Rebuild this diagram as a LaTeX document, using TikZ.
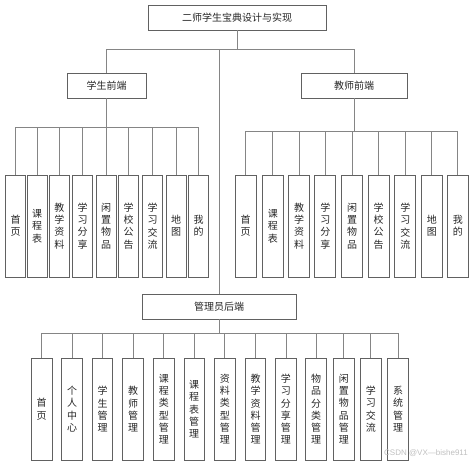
\documentclass[tikz,border=0pt]{standalone}
\usepackage{fontspec}
\newfontfamily\cjk{Noto Sans CJK SC}
\begin{document}
\begin{tikzpicture}[x=1pt,y=-1pt,
  box/.style={draw=black!62,line width=0.8pt,inner sep=0pt,align=center,
    font=\cjk\fontsize{10}{12.3}\selectfont,text=black!85},
  vbox/.style={box,minimum width=20.5pt,minimum height=102pt},
  conn/.style={draw=black!48,line width=0.8pt}]
\useasboundingbox (0,0) rectangle (474,462);
% top level
\node[box,minimum width=178pt,minimum height=25pt] (root) at (237,17.5) {二师学生宝典设计与实现};
\node[box,minimum width=79pt,minimum height=25pt] (stu) at (106.5,85.5) {学生前端};
\node[box,minimum width=106pt,minimum height=25pt] (tea) at (354,85.5) {教师前端};
\node[box,minimum width=154pt,minimum height=25pt] (adm) at (219,306.5) {管理员后端};
\coordinate (rb) at (219,49);
\coordinate (sb) at (107,127);
\coordinate (tb) at (354,131);
\coordinate (ab) at (219,333);
\draw[conn] (root.south) -- (root.south |- rb) -| (stu.north);
\draw[conn] (root.south) -- (root.south |- rb) -| (tea.north);
\draw[conn] (root.south |- rb) -| (adm.north);
% student children
\foreach \x/\t [count=\i] in {15.5/{首\\页},37/{课\\程\\表},59.3/{教\\学\\资\\料},82.7/{学\\习\\分\\享},106/{闲\\置\\物\\品},128.7/{学\\校\\公\\告},152.5/{学\\习\\交\\流},176/{地\\图},198.7/{我\\的}}{
  \node[vbox,minimum width=20pt] (s\i) at (\x,226) {\t};
  \draw[conn] (stu.south) -- (stu.south |- sb) -| (s\i.north);
}
% teacher children
\foreach \x/\t [count=\i] in {245.7/{首\\页},272.8/{课\\程\\表},299/{教\\学\\资\\料},325.3/{学\\习\\分\\享},352/{闲\\置\\物\\品},378.7/{学\\校\\公\\告},405.3/{学\\习\\交\\流},431.8/{地\\图},457.8/{我\\的}}{
  \node[vbox,minimum width=21pt] (t\i) at (\x,226) {\t};
  \draw[conn] (tea.south) -- (tea.south |- tb) -| (t\i.north);
}
% admin children
\foreach \x/\t [count=\i] in {41.7/{首\\页},72.1/{个\\人\\中\\心},102.6/{学\\生\\管\\理},133.1/{教\\师\\管\\理},163.8/{课\\程\\类\\型\\管\\理},194.2/{课\\程\\表\\管\\理},224.8/{资\\料\\类\\型\\管\\理},255.5/{教\\学\\资\\料\\管\\理},285.9/{学\\习\\分\\享\\管\\理},316.1/{物\\品\\分\\类\\管\\理},343.8/{闲\\置\\物\\品\\管\\理},370.8/{学\\习\\交\\流},398.1/{系\\统\\管\\理}}{
  \node[vbox,minimum height=101.7pt] (a\i) at (\x,409.2) {\t};
  \draw[conn] (adm.south) -- (adm.south |- ab) -| (a\i.north);
}
% watermark
\node[font=\fontspec{Liberation Sans}\fontsize{8}{8}\selectfont,text=black!25,inner sep=0pt] (wm) at (426,453.5) {CSDN @VX—bishe911};
\end{tikzpicture}
\end{document}
